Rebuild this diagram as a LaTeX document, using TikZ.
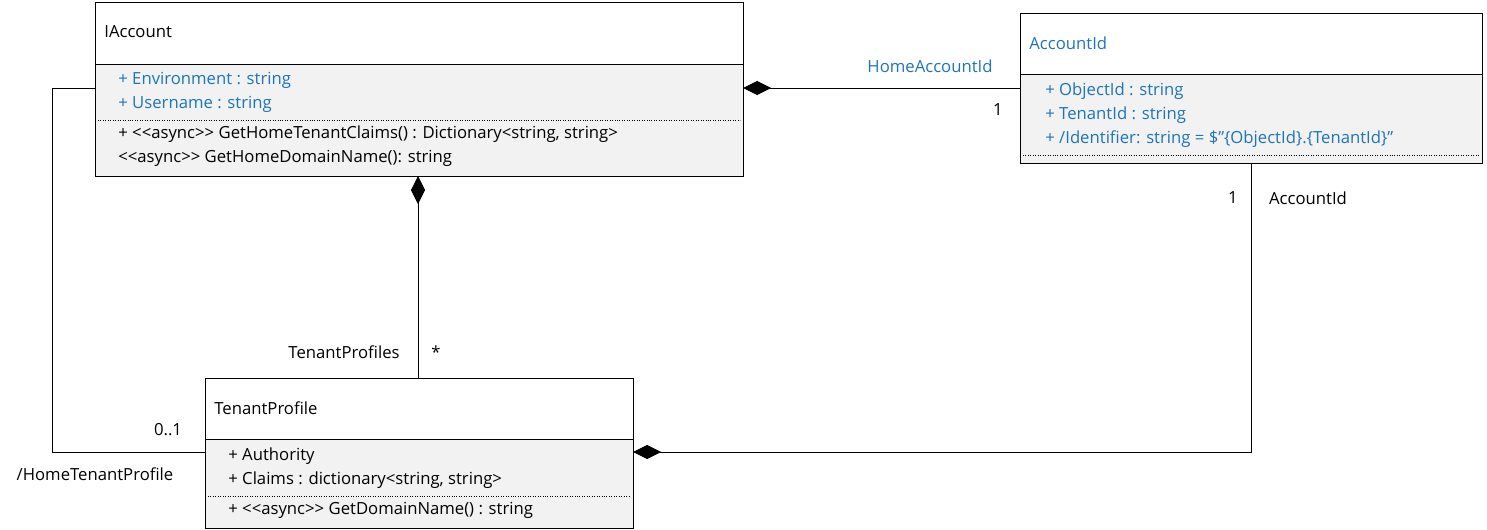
\documentclass[tikz,border=0pt]{standalone}
\usepackage{fontspec}
\setmainfont{Open Sans}
\usetikzlibrary{arrows.meta}
\definecolor{umlblue}{HTML}{1C75BC}
\definecolor{umlfill}{HTML}{F2F2F2}
\tikzset{
  box/.style={draw, fill=umlfill, anchor=north west, inner sep=0pt},
  head/.style={draw, fill=white, anchor=north west, inner sep=0pt},
  txt/.style={anchor=west, inner sep=0pt, font=\fontsize{9.5}{11}\selectfont},
  lbl/.style={inner sep=0pt, font=\fontsize{9.5}{11}\selectfont},
  comp/.style={{Diamond[length=16pt,width=8pt]}-},
}
\begin{document}
\begin{tikzpicture}[x=0.02cm,y=-0.02cm]

            \useasboundingbox (0,0) rectangle (1487,530);

            % IAccount
            \path   (95,2)    node (ia)  [head, minimum width=12.96cm, minimum height=1.24cm] {}
                    (95,64)   node (iab) [box, minimum width=12.96cm, minimum height=2.24cm] {}
                    (104,32)  node [txt, text=umlblue!0!black] {IAccount}
                    (118,80)  node [txt, text=umlblue] {+ Environment : string}
                    (118,104) node [txt, text=umlblue] {+ Username : string}
                    (118,134) node [txt] {+ <{}<async>{}> GetHomeTenantClaims() : Dictionary<string, string>}
                    (118,158) node [txt] {<{}<async>{}> GetHomeDomainName(): string};
            \draw [densely dotted] (98,120) -- (740,120);

            % AccountId
            \path   (1020,13)  node (aid)  [head, minimum width=9.24cm, minimum height=1.22cm] {}
                    (1020,74)  node (aidb) [box, minimum width=9.24cm, minimum height=1.78cm] {}
                    (1029,43)  node [txt, text=umlblue] {AccountId}
                    (1045,91)  node [txt, text=umlblue] {+ ObjectId : string}
                    (1045,115) node [txt, text=umlblue] {+ TenantId : string}
                    (1045,139) node [txt, text=umlblue] {+ /Identifier: string = \$"\{ObjectId\}.\{TenantId\}"};
            \draw [densely dotted] (1023,155) -- (1479,155);

            % TenantProfile
            \path   (205,378) node (tp)  [head, minimum width=8.56cm, minimum height=1.22cm] {}
                    (205,439) node (tpb) [box, minimum width=8.56cm, minimum height=1.78cm] {}
                    (214,408) node [txt] {TenantProfile}
                    (228,456) node [txt] {+ Authority}
                    (228,480) node [txt] {+ Claims : dictionary<string, string>}
                    (228,510) node [txt] {+ <{}<async>{}> GetDomainName() : string};
            \draw [densely dotted] (208,496) -- (630,496);

            % connectors
            \coordinate (p1) at (743,88);
            \coordinate (p2) at (1020,88);
            \coordinate (p3) at (418,176);
            \coordinate (p4) at (418,378);
            \coordinate (p5) at (1251,163);
            \coordinate (p6) at (633,452);
            \coordinate (p7) at (95,88);
            \coordinate (p8) at (205,452);
            \draw [comp] (p1) -- (p2);
            \draw [comp] (p3) -- (p4);
            \draw [comp] (p6) -| (p5);
            \draw (p7) -- (52,88) |- (p8);

            \path   (930,66)  node [lbl, text=umlblue] {HomeAccountId}
                    (998,110) node [lbl] {1}
                    (344,352) node [lbl] {TenantProfiles}
                    (436,352) node [lbl] {*}
                    (1233,198) node [lbl] {1}
                    (1308,198) node [lbl] {AccountId}
                    (168,430) node [lbl] {0..1}
                    (95,474)  node [lbl] {/HomeTenantProfile};

        \end{tikzpicture}
\end{document}
